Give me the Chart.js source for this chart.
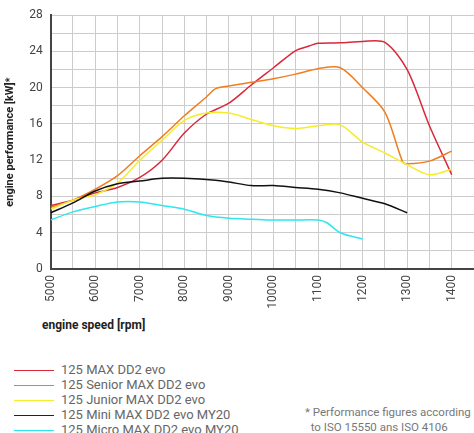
<!DOCTYPE html>
<html><head><meta charset="utf-8">
<script src="https://cdn.jsdelivr.net/npm/chart.js@4/dist/chart.umd.min.js"></script>
<style>
body{margin:0;width:474px;height:433px;background:#fff;font-family:Roboto,"Open Sans",sans-serif;color:#555;position:relative;overflow:hidden}
#wrap{position:absolute;left:0;top:0;width:474px;height:316px}
#xt{position:absolute;left:42px;top:318px;font-weight:bold;font-size:12px;color:#222}
.lg{position:absolute;left:14px;font-size:13px;color:#666;line-height:15px;white-space:nowrap}
.lg span{display:inline-block;width:40px;height:1px;vertical-align:middle;margin-right:7px}
#note{position:absolute;left:305px;top:405px;font-size:11.5px;color:#777;line-height:15px;white-space:nowrap}
</style></head><body>
<div id="wrap"><canvas id="c"></canvas></div>
<div id="xt">engine speed [rpm]</div>
<div class="lg" style="top:362px"><span style="background:#d9283a"></span>125 MAX DD2 evo</div>
<div class="lg" style="top:377px"><span style="background:#f07d1e"></span>125 Senior MAX DD2 evo</div>
<div class="lg" style="top:392px"><span style="background:#f5ec2a"></span>125 Junior MAX DD2 evo</div>
<div class="lg" style="top:407px"><span style="background:#222"></span>125 Mini MAX DD2 evo MY20</div>
<div class="lg" style="top:422px"><span style="background:#2ee6f0"></span>125 Micro MAX DD2 evo MY20</div>
<div id="note">* Performance figures according<br>&nbsp;&nbsp;to ISO 15550 ans ISO 4106</div>
<script>
const xTickLabels = {5000:'5000',6000:'6000',7000:'7000',8000:'8000',9000:'9000',10000:'10000',11000:'1100',12000:'1200',13000:'1300',14000:'1400'};
const rpmMax = [5000,5500,6000,6500,7000,7500,8000,8500,9000,9500,10000,10500,10800,11000,11500,12000,12500,13000,13500,14000];
const valMax = [7.0,7.6,8.4,9.0,10.1,12.0,15.0,17.1,18.3,20.3,22.2,24.1,24.6,24.9,24.95,25.1,25.0,22.0,15.8,10.4];
const rpmSenior = [5000,5500,6000,6500,7000,7500,8000,8500,8700,9000,9500,10000,10500,11000,11500,12000,12500,12900,13000,13500,14000];
const valSenior = [6.8,7.6,8.8,10.3,12.5,14.6,16.9,19.0,19.9,20.2,20.6,21.0,21.5,22.1,22.2,20.0,17.3,11.8,11.6,11.9,13.0];
const rpmJunior = [5000,5500,6000,6500,7000,7500,8000,8500,9000,9500,10000,10500,11000,11500,12000,12500,13000,13500,14000];
const valJunior = [6.6,7.6,8.2,9.5,12.0,14.2,16.4,17.2,17.2,16.5,15.8,15.5,15.8,15.9,14.0,12.8,11.5,10.4,11.0];
const rpmMini = [5000,5500,6000,6500,7000,7500,8000,8700,9000,9500,10000,10500,11000,11500,12000,12500,13000];
const valMini = [6.2,7.3,8.6,9.4,9.7,10.0,10.0,9.8,9.6,9.2,9.2,9.0,8.8,8.4,7.8,7.2,6.2];
const rpmMicro = [5000,5500,6000,6500,7000,7500,8000,8500,9000,9500,10000,10500,11000,11200,11500,12000];
const valMicro = [5.4,6.3,6.9,7.4,7.4,7.0,6.6,5.9,5.6,5.5,5.4,5.4,5.4,5.1,4.0,3.3];
const mk=(r,v,c)=>({data:r.map((x,i)=>({x:x,y:v[i]})),borderColor:c,borderWidth:1.5,pointRadius:0,tension:0.3,fill:false});
const xLabelPlugin={id:'xl',afterDraw(ch){
  const c=ch.ctx,s=ch.scales.x,b=ch.chartArea.bottom;
  c.save();c.fillStyle='#444';c.font='12px Roboto';c.textAlign='right';c.textBaseline='middle';
  Object.keys(xTickLabels).forEach(k=>{const x=s.getPixelForValue(+k);
    c.save();c.translate(x,b+6);c.rotate(-Math.PI/2);c.fillText(xTickLabels[k],0,0);c.restore();});
  c.restore();}};
new Chart(document.getElementById('c'),{type:'line',plugins:[xLabelPlugin],
data:{datasets:[mk(rpmMini,valMini,'#111'),mk(rpmMicro,valMicro,'#2ee6f0'),mk(rpmJunior,valJunior,'#f5ec2a'),mk(rpmSenior,valSenior,'#f07d1e'),mk(rpmMax,valMax,'#d9283a')]},
options:{responsive:true,maintainAspectRatio:false,animation:false,layout:{padding:{top:4,right:0,bottom:47}},
plugins:{legend:{display:false},tooltip:{enabled:false}},
scales:{
x:{type:'linear',min:5000,max:14500,border:{color:'#444',width:2},
 grid:{color:'#ccc',drawTicks:false},
 ticks:{display:false,stepSize:500}},
y:{min:0,max:28,border:{color:'#444',width:2},
 grid:{color:'#ccc',drawTicks:false},
 title:{display:true,text:'engine performance [kW]*',color:'#222',font:{size:11,weight:'bold',family:'Roboto'},padding:4},
 ticks:{stepSize:2,autoSkip:false,padding:8,color:'#444',font:{size:12,family:'Roboto'},callback:v=>v%4===0?v:''}}
}}});
</script></body></html>
